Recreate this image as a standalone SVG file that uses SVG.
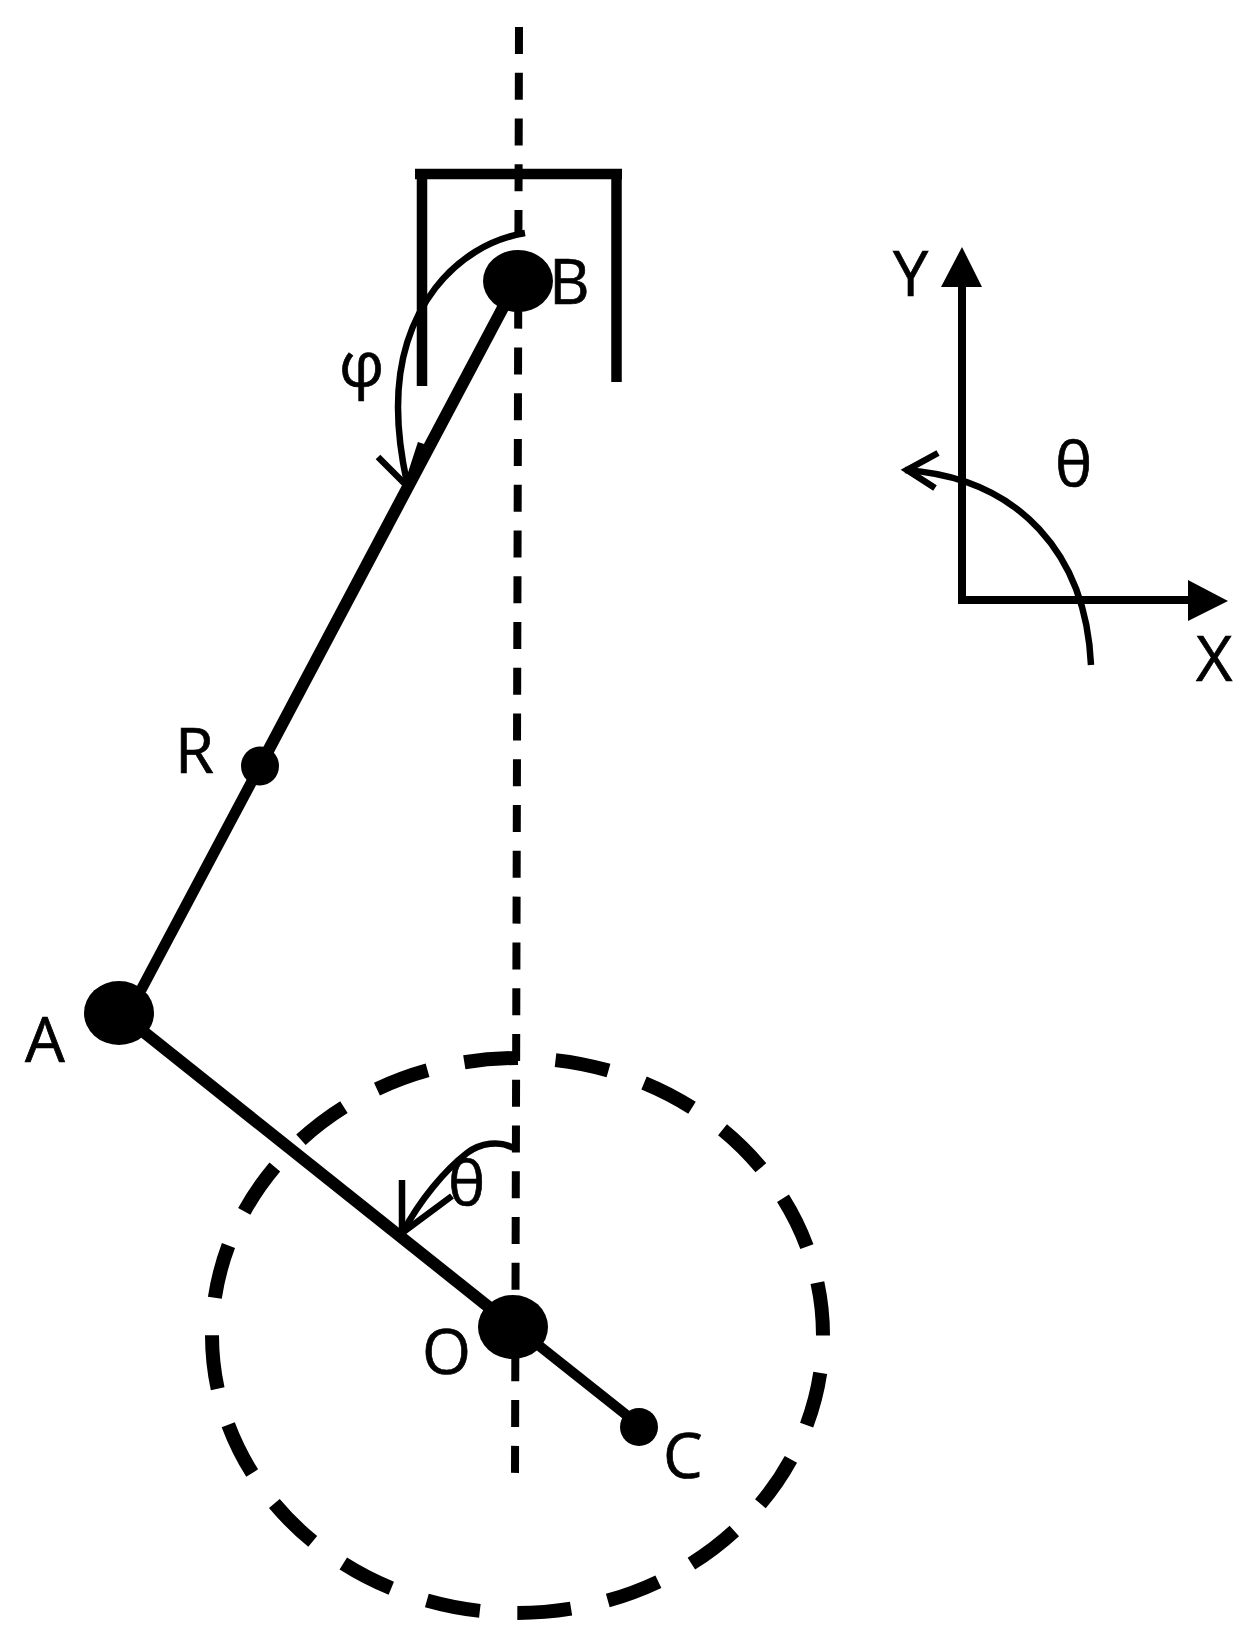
<svg xmlns="http://www.w3.org/2000/svg" width="1250" height="1636" viewBox="0 0 1250 1636">
<style>
text{font-family:"Open Sans","Noto Sans",sans-serif;font-size:63px;fill:#000;stroke:#000;stroke-width:.7}
.ball{fill:#000}
.rod{stroke:#000;stroke-width:12;fill:none}
.thin{stroke:#000;stroke-width:6.500;fill:none}
.axis{stroke:#000;stroke-width:8;fill:none}
.wall{stroke:#000;stroke-width:10.500;fill:none}
</style>
<rect width="1250" height="1636" fill="#fff"/>
<g id="connectors">
<path d="M519 27L515 1473" fill="none" stroke="#000" stroke-width="8" stroke-dasharray="27 18.77"/>
<ellipse cx="517.5" cy="1335.5" rx="305.5" ry="277.5" fill="none" stroke="#000" stroke-width="14" stroke-dasharray="54 37.63" stroke-dashoffset="54"/>
<path class="wall" d="M415 174H622M422 174V386M616.500 174V382"/>
<path class="rod" d="M507 300L260 766"/>
<path class="rod" d="M260 766L141 990" style="stroke-width:11"/>
<path class="rod" d="M140 1029L500 1316"/>
<path class="rod" d="M513 1325L639 1425" style="stroke-width:10.500"/>
<path class="thin" d="M525 233C455 245 398 310 398 407C398 430 402 460 407 483"/>
<path class="thin" d="M378 457L408 487M421 443L408 483"/>
<path class="thin" d="M513 1148C500 1140 480 1143 467 1153C445 1170 420 1200 403 1232"/>
<path class="thin" d="M402 1180V1233L452 1196"/>
<path class="axis" d="M962 285V604M958 600H1190"/>
<path class="ball" d="M962 247L982 287H941Z"/>
<path class="ball" d="M1228 601L1188 580V621Z"/>
<path class="thin" d="M1091 665C1086 555 1020 478 905 470"/>
<path class="thin" d="M938 453L907 470L935 488"/>
</g>
<g id="node-B"><ellipse class="ball" cx="518" cy="281" rx="35" ry="31"/><text x="549" y="304">B</text></g>
<g id="node-R"><ellipse class="ball" cx="260" cy="766" rx="19" ry="19.500"/><text x="175" y="773">R</text></g>
<g id="node-A"><ellipse class="ball" cx="119" cy="1013" rx="35" ry="32"/><text x="25" y="1062">A</text></g>
<g id="node-O"><ellipse class="ball" cx="513" cy="1327" rx="35" ry="32"/><text x="422" y="1374">O</text></g>
<g id="node-C"><circle class="ball" cx="639" cy="1427" r="19"/><text x="663" y="1478">C</text></g>
<g id="labels">
<text x="893" y="296">Y</text>
<text x="1196" y="681">X</text>
<text x="1055" y="486">θ</text>
<text x="448" y="1205">θ</text>
<text x="339" y="386">φ</text>
</g>
</svg>
